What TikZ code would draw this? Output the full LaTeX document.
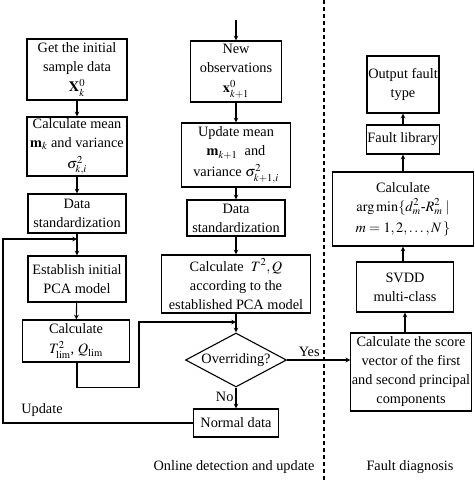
\documentclass[tikz,border=0pt]{standalone}
\usepackage{mathptmx}
\usepackage{fontspec}
\setmainfont{Liberation Serif}
\usetikzlibrary{shapes.geometric}

\begin{document}
\begin{tikzpicture}[x=1pt, y=-1pt, >=stealth, line width=1.1pt,
  box/.style={draw, rectangle, align=center, inner sep=1pt, font=\fontsize{14.3}{19}\selectfont},
  lbl/.style={inner sep=0pt, font=\fontsize{14.3}{19}\selectfont}]
\useasboundingbox (0,0) rectangle (474,482);

% initial model
\node[box, minimum width=100, minimum height=61] (init) at (77,69.5) {Get the initial\\sample data\\[1pt]$\mathbf{X}_k^0$};
\node[box, minimum width=100, minimum height=59] (mean) at (77,146.5) {Calculate mean\\$\mathbf{m}_k$ and variance\\[2pt]$\sigma_{k,i}^2$};
\node[box, minimum width=98, minimum height=39] (std1) at (77,213.5) {Data\\standardization};
\node[box, minimum width=98, minimum height=46] (pca) at (77,279) {Establish initial\\PCA model};
\node[box, minimum width=107, minimum height=42] (lim) at (76,341) {Calculate\\[1pt]$T_{\mathrm{lim}}^2$, $Q_{\mathrm{lim}}$};

% online detection
\coordinate (in) at (236,20);
\node[box, minimum width=91, minimum height=61] (newobs) at (236,71.5) {New\\observations\\[1pt]$\mathbf{x}_{k+1}^0$};
\node[box, minimum width=109, minimum height=64] (upd) at (236,155) {Update mean\\$\mathbf{m}_{k+1}$\ \ and\\[2pt]variance $\sigma_{k+1,i}^2$};
\node[box, minimum width=98, minimum height=36] (std2) at (236,218) {Data\\standardization};
\node[box, minimum width=149, minimum height=58] (calc) at (236,284) {Calculate \ $T^2, Q$\\according to the\\established PCA model};
\node[box, diamond, shape aspect=1.9, inner sep=0pt, minimum width=101, minimum height=54] (dia) at (236,360) {Overriding?};
\node[box, minimum width=85, minimum height=28] (normal) at (236,423) {Normal data};

% fault diagnosis
\node[box, minimum width=72, minimum height=57] (out) at (403,84.5) {Output fault\\type};
\node[box, minimum width=73, minimum height=29] (lib) at (403,139.5) {Fault library};
\node[box, minimum width=141, minimum height=74] (argmin) at (403,209) {Calculate\\$\arg\min\{d_m^2$-$R_m^2\mid$\\[2pt]$m=1,2,\ldots,N\,\}$};
\node[box, minimum width=97, minimum height=50] (svdd) at (405,287) {SVDD\\multi-class};
\node[box, minimum width=119, minimum height=78] (score) at (411,372) {Calculate the score\\vector of the first\\and second principal\\components};

\coordinate (updin) at (77,239);
\coordinate (limin) at (236,322);

\draw[->] (init) -- (mean);
\draw[->] (mean) -- (std1);
\draw[->] (std1) -- (pca);
\draw[->] (pca) -- (lim);
\draw[->] (normal.west) -| (3,239) -- (updin);
\draw[->] (lim.south -| updin) -- ++(0,25) -| (139,322) -- (limin);

\draw[->] (in) -- (newobs);
\draw[->] (newobs) -- (upd);
\draw[->] (upd) -- (std2);
\draw[->] (std2) -- (calc);
\draw[->] (calc) -- (dia);
\draw[->] (dia) -- (normal) node[lbl, pos=0.45, left=2pt] {No};
\draw[->] (dia.east) -- (dia.east -| score.west) node[lbl, pos=0.35, above=3pt] {Yes};

\draw[->] (score.north -| svdd.south) -- (svdd.south);
\draw[->] (svdd.north -| argmin.south) -- (argmin.south);
\draw[->] (argmin) -- (lib);
\draw[->] (lib) -- (out);

\draw[dashed, dash pattern=on 4pt off 3pt] (324,0) -- (324,482);

\node[lbl] (updlbl) at (42,410) {Update};
\node[lbl] (online) at (234,467) {Online detection and update};
\node[lbl] (faultdiag) at (410,467) {Fault diagnosis};
\end{tikzpicture}
\end{document}
